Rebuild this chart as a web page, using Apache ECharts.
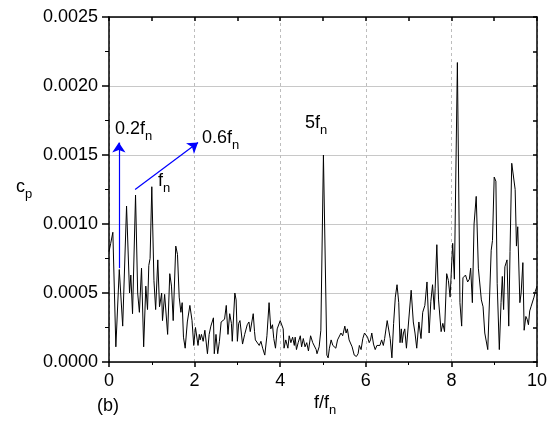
<!DOCTYPE html>
<html>
<head>
<meta charset="utf-8">
<script src="https://cdn.jsdelivr.net/npm/echarts@6/dist/echarts.min.js"></script>
<style>
  html, body { margin: 0; padding: 0; background: #fff; }
  #main { width: 550px; height: 426px; }
</style>
</head>
<body>
<div id="main"></div>
<script>
// spectrum
let freq = [
    0.00, 0.04, 0.09, 0.16, 0.24, 0.32, 0.41, 0.48, 0.51, 0.55, 0.62, 0.67, 0.71, 0.76, 0.81, 0.86, 0.90, 0.93, 0.96, 1.00,
    1.05, 1.09, 1.14, 1.18, 1.23, 1.25, 1.30, 1.33, 1.37, 1.42, 1.46, 1.50, 1.56, 1.60, 1.64, 1.68, 1.71, 1.74, 1.78, 1.83,
    1.89, 1.94, 1.98, 2.02, 2.08, 2.11, 2.13, 2.16, 2.20, 2.24, 2.30, 2.34, 2.38, 2.44, 2.46, 2.50, 2.54, 2.58, 2.62, 2.66,
    2.70, 2.74, 2.78, 2.82, 2.86, 2.88, 2.94, 2.97, 3.00, 3.03, 3.06, 3.12, 3.17, 3.23, 3.27, 3.30, 3.37, 3.40, 3.42, 3.46,
    3.51, 3.55, 3.59, 3.64, 3.69, 3.74, 3.78, 3.82, 3.85, 3.89, 3.93, 4.00, 4.04, 4.07, 4.09, 4.13, 4.18, 4.21, 4.25, 4.29,
    4.33, 4.35, 4.38, 4.42, 4.47, 4.50, 4.54, 4.58, 4.62, 4.66, 4.71, 4.76, 4.80, 4.84, 4.86, 4.91, 4.95, 5.01, 5.09, 5.12,
    5.15, 5.19, 5.23, 5.27, 5.30, 5.34, 5.38, 5.42, 5.46, 5.51, 5.54, 5.57, 5.61, 5.65, 5.68, 5.73, 5.78, 5.82, 5.85, 5.89,
    5.93, 5.97, 6.00, 6.04, 6.08, 6.11, 6.14, 6.18, 6.22, 6.26, 6.30, 6.33, 6.37, 6.41, 6.44, 6.50, 6.53, 6.57, 6.61, 6.65,
    6.69, 6.73, 6.77, 6.80, 6.83, 6.85, 6.88, 6.91, 6.95, 7.06, 7.11, 7.15, 7.19, 7.24, 7.29, 7.33, 7.38, 7.43, 7.48, 7.52,
    7.56, 7.60, 7.62, 7.66, 7.70, 7.76, 7.80, 7.84, 7.89, 7.93, 7.97, 8.01, 8.03, 8.07, 8.14, 8.20, 8.24, 8.27, 8.33, 8.38,
    8.42, 8.45, 8.49, 8.53, 8.58, 8.63, 8.67, 8.70, 8.74, 8.78, 8.85, 8.93, 8.96, 9.00, 9.04, 9.07, 9.12, 9.16, 9.19, 9.22,
    9.25, 9.30, 9.34, 9.37, 9.41, 9.45, 9.49, 9.52, 9.55, 9.60, 9.63, 9.67, 9.70, 9.74, 9.77, 9.80, 9.83, 9.86, 9.90, 9.93,
    9.96, 10.00
];
let cp = [
    0.00080, 0.00086, 0.00094, 0.00011, 0.00067, 0.00026, 0.00113, 0.00050, 0.00063, 0.00035, 0.00121, 0.00050, 0.00036, 0.00068, 0.00011, 0.00055, 0.00038, 0.00070, 0.00075, 0.00127,
    0.00059, 0.00038, 0.00074, 0.00040, 0.00050, 0.00030, 0.00049, 0.00048, 0.00020, 0.00064, 0.00055, 0.00030, 0.00084, 0.00078, 0.00047, 0.00036, 0.00043, 0.00018, 0.00010, 0.00029,
    0.00041, 0.00030, 0.00012, 0.00025, 0.00012, 0.00020, 0.00016, 0.00020, 0.00015, 0.00023, 0.00006, 0.00020, 0.00026, 0.00032, 0.00006, 0.00020, 0.00006, 0.00015, 0.00029, 0.00028,
    0.00031, 0.00041, 0.00020, 0.00035, 0.00028, 0.00015, 0.00050, 0.00045, 0.00015, 0.00028, 0.00030, 0.00013, 0.00020, 0.00027, 0.00029, 0.00022, 0.00035, 0.00022, 0.00016, 0.00017,
    0.00012, 0.00015, 0.00010, 0.00005, 0.00019, 0.00043, 0.00024, 0.00027, 0.00017, 0.00010, 0.00024, 0.00030, 0.00031, 0.00024, 0.00010, 0.00016, 0.00010, 0.00019, 0.00014, 0.00018,
    0.00012, 0.00018, 0.00009, 0.00014, 0.00019, 0.00011, 0.00017, 0.00011, 0.00014, 0.00008, 0.00019, 0.00014, 0.00015, 0.00009, 0.00006, 0.00011, 0.00023, 0.00150, 0.00005, 0.00003,
    0.00010, 0.00016, 0.00012, 0.00011, 0.00010, 0.00016, 0.00017, 0.00021, 0.00019, 0.00026, 0.00021, 0.00024, 0.00016, 0.00015, 0.00011, 0.00005, 0.00004, 0.00006, 0.00012, 0.00009,
    0.00017, 0.00021, 0.00020, 0.00018, 0.00014, 0.00016, 0.00021, 0.00013, 0.00009, 0.00012, 0.00011, 0.00012, 0.00016, 0.00012, 0.00017, 0.00030, 0.00031, 0.00017, 0.00003, 0.00028,
    0.00047, 0.00056, 0.00043, 0.00014, 0.00024, 0.00014, 0.00021, 0.00024, 0.00010, 0.00052, 0.00029, 0.00021, 0.00010, 0.00029, 0.00017, 0.00036, 0.00041, 0.00058, 0.00021, 0.00044,
    0.00056, 0.00038, 0.00053, 0.00085, 0.00045, 0.00022, 0.00028, 0.00022, 0.00064, 0.00059, 0.00047, 0.00046, 0.00086, 0.00060, 0.00217, 0.00043, 0.00026, 0.00061, 0.00063, 0.00058,
    0.00060, 0.00068, 0.00043, 0.00100, 0.00120, 0.00068, 0.00068, 0.00045, 0.00040, 0.00021, 0.00009, 0.00081, 0.00088, 0.00134, 0.00131, 0.00057, 0.00009, 0.00043, 0.00062, 0.00038,
    0.00069, 0.00074, 0.00026, 0.00080, 0.00144, 0.00145, 0.00125, 0.00084, 0.00098, 0.00043, 0.00050, 0.00072, 0.00023, 0.00033, 0.00031, 0.00027, 0.00037, 0.00040, 0.00041, 0.00047,
    0.00051, 0.00055
];

// blue arrows (data coords)
let arrowFrom = [[0.23, 0.00068], [0.61, 0.00125]];
let arrowTo = [[0.23, 0.00159], [2.08, 0.00159]];

let font = 'Liberation Sans, Arial, sans-serif';

let sub = function (main, s) {
    return '{m|' + main + '}{s|' + s + '}';
};
let richStyle = {
    m: { fontSize: 18, fontFamily: font, color: '#000', lineHeight: 18, verticalAlign: 'middle' },
    s: { fontSize: 13, fontFamily: font, color: '#000', lineHeight: 28, verticalAlign: 'bottom' }
};

function textEl(x, y, txt) {
    return {
        type: 'text', left: x, top: y, silent: true,
        style: { text: txt, rich: richStyle, fill: '#000' }
    };
}

let option = {
    animation: false,
    backgroundColor: '#fff',
    grid: { left: 109, right: 13, top: 17, bottom: 64 },
    xAxis: [
        {
            type: 'value', min: 0, max: 10, interval: 2,
            axisLine: { show: true, onZero: false, lineStyle: { color: '#000', width: 1.5 } },
            axisTick: { show: true, inside: false, length: 5, lineStyle: { color: '#000', width: 1.5 } },
            minorTick: { show: true, splitNumber: 2, length: 3, lineStyle: { color: '#000', width: 1 } },
            axisLabel: { color: '#000', fontSize: 18, fontFamily: font, margin: 10 },
            splitLine: { show: true, lineStyle: { color: '#bdbdbd', type: [3, 3], width: 1 } }
        },
        {
            type: 'value', position: 'top', min: 0, max: 10, interval: 1,
            axisLine: { show: true, onZero: false, lineStyle: { color: '#000', width: 1.5 } },
            axisTick: { show: true, inside: true, length: 4, lineStyle: { color: '#000', width: 1.5 } },
            axisLabel: { show: false },
            splitLine: { show: false }
        }
    ],
    yAxis: [
        {
            type: 'value', min: 0, max: 0.0025, interval: 0.0005,
            axisLine: { show: true, onZero: false, lineStyle: { color: '#000', width: 1.5 } },
            axisTick: { show: true, inside: false, length: 7, lineStyle: { color: '#000', width: 1.5 } },
            minorTick: { show: true, splitNumber: 2, length: 4, lineStyle: { color: '#000', width: 1 } },
            axisLabel: {
                color: '#000', fontSize: 18, fontFamily: font, margin: 11,
                formatter: function (v) { return v.toFixed(4); }
            },
            splitLine: { show: true, lineStyle: { color: '#c8c8c8', width: 1 } }
        },
        {
            type: 'value', position: 'right', min: 0, max: 0.0025, interval: 0.00025,
            axisLine: { show: true, onZero: false, lineStyle: { color: '#000', width: 1.5 } },
            axisTick: { show: true, inside: true, length: 4, lineStyle: { color: '#000', width: 1.5 } },
            axisLabel: { show: false },
            splitLine: { show: false }
        }
    ],
    series: [
        {
            type: 'line',
            data: freq.map(function (f, i) { return [f, cp[i]]; }),
            showSymbol: false,
            symbol: 'none',
            lineStyle: { color: '#000', width: 1 },
            markLine: {
                silent: true,
                symbol: ['none', 'arrow'],
                symbolSize: 10,
                label: { show: false },
                lineStyle: { color: '#0000ff', width: 1.2, type: 'solid' },
                data: arrowFrom.map(function (p, i) {
                    return [{ coord: p }, { coord: arrowTo[i] }];
                })
            }
        }
    ],
    graphic: [
        textEl(115, 120, sub('0.2f', 'n')),
        textEl(202, 129, sub('0.6f', 'n')),
        textEl(158, 172, sub('f', 'n')),
        textEl(305, 114, sub('5f', 'n')),
        textEl(16, 178, sub('c', 'p')),
        textEl(314, 394, sub('f/f', 'n')),
        {
            type: 'text', left: 97, top: 397, silent: true,
            style: { text: '(b)', fontSize: 18, fontFamily: font, fill: '#000' }
        }
    ]
};

let chart = echarts.init(document.getElementById('main'));
chart.setOption(option);
</script>
</body>
</html>
